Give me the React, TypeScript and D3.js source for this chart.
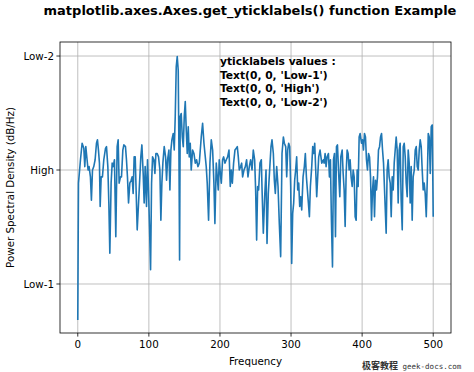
import React from "react";
import * as d3 from "d3";

// Frequency (Hz) and PSD (dB/Hz, relative)
const freqs: number[] = [
  0, 1.0, 3.8, 6.1, 8.5, 9.9, 11.3, 13.1, 14.5, 15.9, 17.8, 19.2, 20.7, 22.5, 24.4, 26.3, 27.7, 29.1, 30.5, 31.5,
  32.9, 34.7, 36.6, 39.0, 40.4, 42.3, 43.7, 45.1, 46.9, 48.4, 49.8, 51.6, 53.5, 55.4, 56.8, 58.2, 60.1, 61.5, 63.4, 64.8,
  67.1, 68.5, 69.9, 71.4, 73.2, 75.1, 76.5, 77.9, 79.3, 80.8, 82.2, 83.6,
  86.4, 88.7, 90.2, 92.0, 93.4, 94.8, 96.7, 98.1, 99.5, 100.9, 102.4, 103.8, 105.2, 107.1, 108.5, 109.9, 111.7, 113.6,
  115.5, 116.9, 118.3, 119.7, 121.6, 123.5, 124.9, 126.3, 128.2, 129.6, 131.0, 132.4, 134.3, 135.7, 137.1, 138.5, 139.9,
  141.3, 142.3, 143.2, 144.1, 145.5, 147.0, 148.4, 149.8, 151.2, 152.6, 154.0, 155.4, 156.8, 158.2, 159.6, 161.5, 163.4,
  165.3, 167.1, 169.0, 170.9,
  171.3, 173.7, 175.6, 177.5, 178.9, 180.7, 182.1, 184.0, 185.9, 187.8, 189.7, 191.5, 192.9, 194.8, 196.2, 197.6, 199.0,
  200.5, 201.9, 203.7, 205.2, 207.0, 208.9, 210.8, 212.7, 214.5, 215.9, 217.4, 219.2, 221.1, 223.0, 224.4, 225.8, 227.2,
  229.1, 230.5, 231.9, 233.8, 235.7, 237.5, 239.4, 241.3, 243.2, 245.1, 246.9, 248.8, 250.2, 251.6, 253.0, 254.4, 256.3, 258.2,
  259.1, 261.0, 262.9, 264.8, 266.2, 268.0, 269.9, 271.8, 273.2, 275.1, 276.5, 277.9, 279.8, 281.7, 283.5, 285.4, 287.3,
  289.2, 290.6, 292.5, 293.9, 295.3, 296.7, 298.1, 299.5, 300.9, 302.3, 303.7, 305.1, 306.5, 307.9, 309.4, 310.8, 312.2,
  313.6, 315.0, 316.9, 318.7, 320.1, 321.6, 323.0, 324.4, 325.8, 327.2, 329.1, 330.5, 331.9, 333.3, 334.7, 336.1, 337.5,
  338.9, 340.8, 343.2, 345.5,
  346.5, 347.9, 349.3, 350.7, 352.6, 354.0, 355.4, 356.8, 358.3, 359.7, 361.1, 362.5, 363.9, 365.3, 367.2, 368.6, 370.0,
  371.9, 373.3, 374.7, 376.1, 377.5, 378.9, 380.3, 381.7, 383.1, 384.5, 386.0, 387.4, 388.8, 390.2, 391.6, 393.0, 394.4,
  395.8, 397.2, 399.1, 400.5, 401.9, 403.3, 404.7, 406.1, 407.5, 409.0, 410.4, 411.8, 413.2, 414.6, 416.0, 417.4, 418.8,
  420.2, 421.6, 423.0, 424.5, 425.9, 427.3, 428.7, 430.1,
  433.8, 435.2, 436.6, 438.0, 439.5, 440.9, 442.3, 443.7, 445.1, 446.5, 447.9, 449.3, 450.7, 452.1, 453.5, 454.9, 456.4,
  457.8, 459.2, 460.6, 462.0, 463.4, 464.8, 466.2, 467.6, 469.0, 470.4, 471.8, 473.3, 474.7, 476.1, 477.5, 478.9, 480.3,
  481.7, 483.1, 484.5, 485.9, 487.3, 488.7, 490.2, 491.6, 493.0, 494.4, 495.8, 497.2, 498.6, 500.0,
];

const psd: number[] = [
  -26.3, -2.3, 1.8, 4.7, 3.8, 0.6, 4.1, 1.8, 0, 0.6, -1.2, -5.3, 0, 0.6, 1.8, 4.7, 5.3, 3.5, 1.2, -6.4,
  -1.2, -1.2, 1.8, 3.8, 4.1, 0.6, -5.8, -14.6, -2.3, 1.2, 0.6, 1.8, -11.7, 4.1, 5.3, -2.3, -1.2, -1.2, 3.5, 4.4,
  4.1, 1.8, -1.2, -5.8, -2.3, -1.8, -1.2, -4.1, 2.3, 2.3, -4.1, -10.5,
  -3.5, 2.3, 4.4, -0.6, -5.8, 0.6, -6.4, 1.8, -3.5, -9.9, -17.5, -2.3, 2.3, 1.8, -0.6, 2.9, 2.9, 2.3,
  0, -8.8, -2.3, 1.2, 4.1, 2.3, -1.8, 1.8, 3.5, -3.5, 3.5, 5.3, 6.4, 3.5, 9.4, 18.1, 19.9,
  17.5, 3.5, -15.8, 9.4, 9.9, 5.8, 4.1, 9.4, 12.0, 7.0, 2.9, 7.6, 2.3, 4.7, 0, 3.5, 2.9,
  1.2, 1.8, 0.6, 1.2,
  1.8, 5.8, 8.2, 4.7, 2.9, 0.6, -2.3, -8.8, 1.2, 5.3, 3.5, -2.3, -9.4, 1.2, -1.2, -3.5, 1.8,
  -0.6, -2.3, 1.8, 2.3, 1.2, 1.8, 2.3, 3.5, -2.9, 0, -2.3, 1.2, 3.5, 3.8, 4.1, 2.3, 0,
  0.6, 1.2, -1.2, 0, 0.6, 1.8, -1.2, 0.6, 1.8, 0, 3.5, 1.8, -3.5, -12.3, -2.9, -3.5, 1.2, 1.8,
  -2.9, -11.1, -4.7, 0, -12.9, -4.1, 0, 4.1, 5.3, 2.9, -1.8, -4.1, 0.6, -2.9, -9.4, -15.2, 2.9,
  5.8, 4.7, 4.1, -1.2, 3.5, 4.7, 4.1, -2.9, -16.4, -7.6, -5.8, -1.8, 0, 2.3, -3.5, -2.3, -6.4,
  -4.7, -7.0, -1.2, 0.6, 2.9, -1.2, -3.5, -5.8, -8.2, -2.9, 0.6, 4.1, 2.9, 4.7, 0, -4.7, -1.2,
  2.3, 3.5, 1.2, 1.8,
  1.2, 2.9, 0.6, 2.3, 2.9, -1.2, 1.8, -8.8, -17.0, 1.8, 2.9, -11.7, 4.1, 4.4, -1.2, -4.7, 2.3,
  3.5, -0.6, -3.5, -9.9, -0.6, 3.5, 2.9, 0, 1.8, -1.2, -2.9, 0, -1.2, -8.2, -8.8, 0, -2.9,
  5.8, 6.4, 4.7, 5.3, 3.5, 6.4, 5.8, 1.8, 0, 2.9, 2.3, -1.2, -8.8, -3.5, -1.2, -8.2, -1.8,
  -3.5, -1.2, 3.5, 4.1, 5.8, 6.4, 3.5, 1.2,
  -11.1, 0, 1.8, -1.2, -2.3, -8.2, -1.2, -3.5, 1.2, 3.5, 5.8, 3.5, -5.8, 3.5, 4.7, -5.3, -10.5,
  4.1, 4.7, 2.3, -2.3, -4.7, 3.5, 1.2, -5.8, 0.6, -8.8, -1.2, 0, 3.5, 4.1, 0.6, 0, 3.5,
  5.3, 4.1, 0, -3.5, -2.3, -4.1, -8.2, -1.8, 6.4, 5.8, -0.6, 7.6, 7.9, -8.2,
];

const xTicks: number[] = [0, 100, 200, 300, 400, 500];
const yTickValues: number[] = [-20, 0, 20];
const yTickLabels: string[] = ["Low-1", "High", "Low-2"];
const annotationLines: string[] = [
  "yticklabels values :",
  "Text(0, 0, 'Low-1')",
  "Text(0, 0, 'High')",
  "Text(0, 0, 'Low-2')",
];

export default function App() {
  const W = 474, H = 372;
  const left = 60, right = 451, top = 42, bottom = 333;
  const x = d3.scaleLinear().domain([-25, 525]).range([left, right]);
  const y = d3.scaleLinear().domain([-28.6, 22.46]).range([bottom, top]);
  const pts = freqs.map((f, i) => [f, psd[i]] as [number, number]);
  const line = d3.line<[number, number]>().x((d) => x(d[0])).y((d) => y(d[1]));
  const font = "DejaVu Sans, sans-serif";
  return (
    <svg width={W} height={H} style={{ position: "absolute", left: 0, top: 0, background: "#fff" }}>
      <rect x={0} y={0} width={W} height={H} fill="#fff" />
      {xTicks.map((t) => (
        <line key={"gx" + t} x1={x(t)} x2={x(t)} y1={top} y2={bottom} stroke="#b0b0b0" strokeWidth={0.8} />
      ))}
      {yTickValues.map((t) => (
        <line key={"gy" + t} x1={left} x2={right} y1={y(t)} y2={y(t)} stroke="#b0b0b0" strokeWidth={0.8} />
      ))}
      <path d={line(pts) || ""} fill="none" stroke="#1f77b4" strokeWidth={1.6} strokeLinejoin="round" />
      <rect x={left} y={top} width={right - left} height={bottom - top} fill="none" stroke="#000" strokeWidth={0.8} />
      {xTicks.map((t) => (
        <g key={"tx" + t}>
          <line x1={x(t)} x2={x(t)} y1={bottom} y2={bottom + 3.6} stroke="#000" strokeWidth={0.8} />
          <text x={x(t)} y={bottom + 15} textAnchor="middle" fontFamily={font} fontSize={10.3} fill="#000">
            {t}
          </text>
        </g>
      ))}
      {yTickValues.map((t, i) => (
        <g key={"ty" + t}>
          <line x1={left - 3.6} x2={left} y1={y(t)} y2={y(t)} stroke="#000" strokeWidth={0.8} />
          <text x={left - 6} y={y(t) + 3.7} textAnchor="end" fontFamily={font} fontSize={10.3} fill="#000">
            {yTickLabels[i]}
          </text>
        </g>
      ))}
      <text x={(left + right) / 2} y={365} textAnchor="middle" fontFamily={font} fontSize={10.3} fill="#000">
        Frequency
      </text>
      <text
        transform={`translate(14, ${(top + bottom) / 2}) rotate(-90)`}
        textAnchor="middle"
        fontFamily={font}
        fontSize={10.3}
        fill="#000"
      >
        Power Spectral Density (dB/Hz)
      </text>
      <text x={250} y={15} textAnchor="middle" fontFamily={font} fontWeight="bold" fontSize={13} fill="#000">
        matplotlib.axes.Axes.get_yticklabels() function Example
      </text>
      {annotationLines.map((s, i) => (
        <text key={"a" + i} x={x(200)} y={65 + i * 13.7} fontFamily={font} fontWeight="bold" fontSize={10.7} fill="#000">
          {s}
        </text>
      ))}
      <text x={362} y={369} fontSize={9} fill="#333">
        <tspan fontFamily="Noto Sans CJK SC" fontWeight="bold">极客教程</tspan>
        <tspan fontFamily="DejaVu Sans Mono, monospace" fontSize={7.5}> geek-docs.com</tspan>
      </text>
    </svg>
  );
}
